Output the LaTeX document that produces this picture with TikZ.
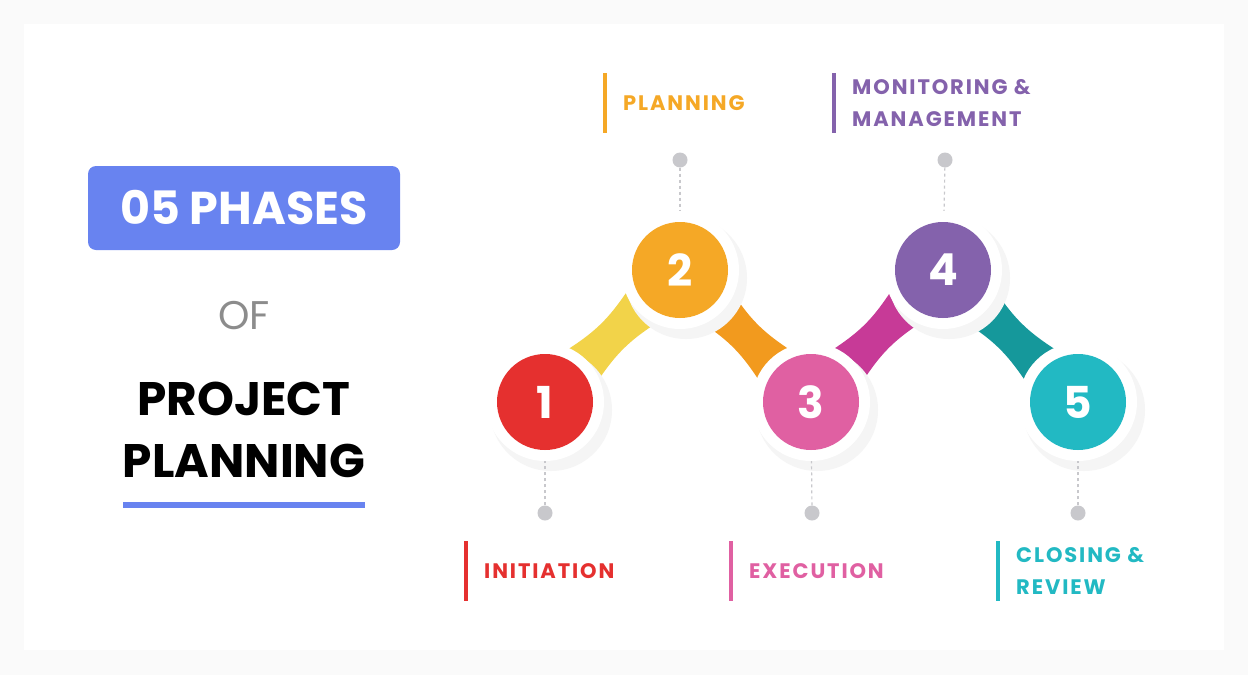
\documentclass[tikz,border=0pt]{standalone}
\usepackage{fontspec}
\setmainfont{Poppins}
\usetikzlibrary{calc}

\definecolor{cRed}{HTML}{E5302F}
\definecolor{cOrange}{HTML}{F5A826}
\definecolor{cPink}{HTML}{E060A2}
\definecolor{cPurple}{HTML}{8462AC}
\definecolor{cTeal}{HTML}{22B9C3}
\definecolor{bYellow}{HTML}{F2D349}
\definecolor{bOrange}{HTML}{F29A1E}
\definecolor{bMagenta}{HTML}{C73A97}
\definecolor{bTeal}{HTML}{15989B}
\definecolor{boxBlue}{HTML}{6883F0}
\definecolor{dotGray}{HTML}{C8C8CC}

\tikzset{
  ring/.style={circle, fill=white, minimum size=118pt, inner sep=0pt},
  phase/.style={circle, fill=#1, minimum size=96pt, inner sep=0pt, text=white,
    font=\fontsize{44}{44}\selectfont\bfseries},
  shade/.style={circle, fill=black!4, minimum size=122pt, inner sep=0pt},
  dot/.style={circle, fill=dotGray, minimum size=15pt, inner sep=0pt},
  tag/.style={anchor=west, align=left, text=#1, inner sep=0pt,
    font=\fontsize{21}{32}\selectfont\bfseries\addfontfeatures{LetterSpace=9}},
  bar/.style={line width=4pt, #1},
}

\newcommand{\band}[3]{% from, to, colour
  \fill[#3] ($(#1)!34pt!90:(#2)$)
    .. controls ($($(#1)!0.5!(#2)$)!11pt!90:(#2)$) .. ($(#2)!34pt!-90:(#1)$)
    -- ($(#2)!34pt!90:(#1)$)
    .. controls ($($(#1)!0.5!(#2)$)!11pt!-90:(#2)$) .. ($(#1)!34pt!-90:(#2)$) -- cycle;}

\begin{document}
\begin{tikzpicture}[x=1pt,y=-1pt]

  \fill[black!2] (0,0) rectangle (1248,675);
  \fill[white] (24,24) rectangle (1224,650);

  % left title
  \node (box) [fill=boxBlue, rounded corners=8pt, minimum width=312pt, minimum height=84pt,
    text=white, font=\fontsize{46}{46}\selectfont\bfseries] at (244,208) {05 PHASES};
  \node (of) [text=black!45, font=\fontsize{40}{40}\selectfont] at (244,316) {OF};
  \node (title) [align=center, font=\fontsize{47}{62}\selectfont\bfseries] at (244,430) {PROJECT\\PLANNING};
  \draw[line width=6pt, boxBlue] (123,505) -- (365,505);

  % centres
  \coordinate (p1) at (545,402);
  \coordinate (p2) at (680,270);
  \coordinate (p3) at (811,402);
  \coordinate (p4) at (943,270);
  \coordinate (p5) at (1078,402);

  % bands
  \band{p1}{p2}{bYellow}
  \band{p2}{p3}{bOrange}
  \band{p3}{p4}{bMagenta}
  \band{p4}{p5}{bTeal}

  % circles
  \foreach \i in {1,...,5}{
    \node (s\i) [shade] at ($(p\i)+(6,8)$) {};
  }
  \foreach \i/\c in {1/cRed,2/cOrange,3/cPink,4/cPurple,5/cTeal}{
    \node (r\i) [ring] at (p\i) {};
    \node (n\i) [phase=\c] at (p\i) {\i};
  }

  % dots and leaders
  \node (d2) [dot] at (680,160) {};
  \node (d4) [dot] at (945,160) {};
  \node (d1) [dot] at (545,513) {};
  \node (d3) [dot] at (812,513) {};
  \node (d5) [dot] at (1078,513) {};
  \draw[dotGray, dashed, line width=1.2pt] (d2) -- (r2);
  \draw[dotGray, dashed, line width=1.2pt] (d4) -- (r4);
  \draw[dotGray, dashed, line width=1.2pt] (d1) -- (r1);
  \draw[dotGray, dashed, line width=1.2pt] (d3) -- (r3);
  \draw[dotGray, dashed, line width=1.2pt] (d5) -- (r5);

  % labels
  \draw[bar=cOrange] (605,73) -- (605,133);
  \node (l2) [tag=cOrange] at (623,103) {PLANNING};
  \draw[bar=cPurple] (834,73) -- (834,133);
  \node (l4) [tag=cPurple] at (852,103) {MONITORING \&\\MANAGEMENT};
  \draw[bar=cRed] (466,541) -- (466,601);
  \node (l1) [tag=cRed] at (484,571) {INITIATION};
  \draw[bar=cPink] (731,541) -- (731,601);
  \node (l3) [tag=cPink] at (749,571) {EXECUTION};
  \draw[bar=cTeal] (998,541) -- (998,601);
  \node (l5) [tag=cTeal] at (1016,571) {CLOSING \&\\REVIEW};

\end{tikzpicture}
\end{document}
